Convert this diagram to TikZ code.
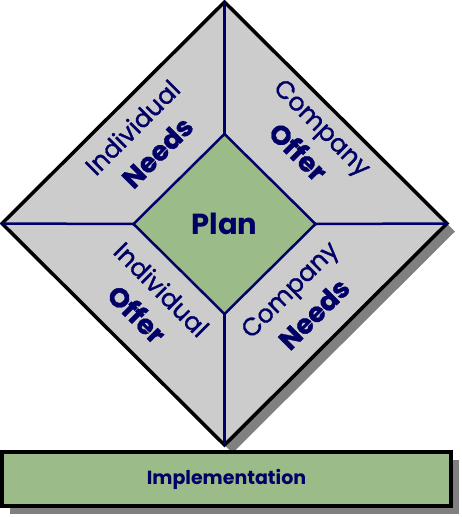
\documentclass[tikz,border=0pt]{standalone}
\usepackage{fontspec}
\setmainfont{Poppins}
\newfontfamily\midfont{Poppins}[FakeBold=1.2]
\usetikzlibrary{shapes.geometric,shadows,positioning}
\definecolor{navy}{RGB}{0,0,102}
\definecolor{sage}{RGB}{155,187,137}
\definecolor{stone}{RGB}{204,204,204}
\definecolor{shade}{RGB}{128,128,128}
\newcommand{\keyword}[1]{{\fontsize{27}{36}\selectfont\bfseries #1}}
\tikzset{
  board/.style={diamond,draw=black,line width=3.5pt,fill=stone,inner sep=0pt,outer sep=0pt,
    minimum width=445pt,minimum height=443pt,
    drop shadow={shadow xshift=8pt,shadow yshift=-8pt,fill=shade,opacity=1}},
  core/.style={diamond,draw=navy,line width=2.5pt,fill=sage,inner sep=0pt,outer sep=0pt,
    minimum width=182pt,minimum height=180pt},
  divider/.style={draw=navy,line width=2.5pt},
  quad/.style={text=navy,align=center,font=\fontsize{25}{36}\midfont},
  base/.style={draw=black,line width=4pt,fill=sage,inner sep=0pt,outer sep=0pt,
    minimum width=449pt,minimum height=54pt,text=navy,
    font=\fontsize{19}{20}\selectfont\bfseries,
    drop shadow={shadow xshift=8pt,shadow yshift=-8pt,fill=shade,opacity=1}},
}
\begin{document}
\begin{tikzpicture}[x=1pt,y=-1pt]
  \useasboundingbox (0,0) rectangle (462,517);
  % diamond with the four fields
  \node[board] (board) at (224.5,223.5) {};
  \node[core] (plan) at (224.5,224) {};
  \node[text=navy,font=\fontsize{29}{30}\selectfont\bfseries] (plantext) at (plan.center) {Plan};
  \draw[divider] (plan.north) -- (board.north);
  \draw[divider] (plan.west) -- (board.west);
  \draw[divider] (plan.east) -- (board.east);
  \draw[divider] (plan.south) -- (board.south);
  % field labels
  \node[quad,rotate=45] (indneeds) at (145,140) {Individual\\\keyword{Needs}};
  \node[quad,rotate=-45] (compoffer) at (310,140) {Company\\\keyword{Offer}};
  \node[quad,rotate=-45] (indoffer) at (149,302) {Individual\\\keyword{Offer}};
  \node[quad,rotate=45] (compneeds) at (302,302) {Company\\\keyword{Needs}};
  % foundation
  \node[base] (impl) at (226.5,479) {Implementation};
\end{tikzpicture}
\end{document}
